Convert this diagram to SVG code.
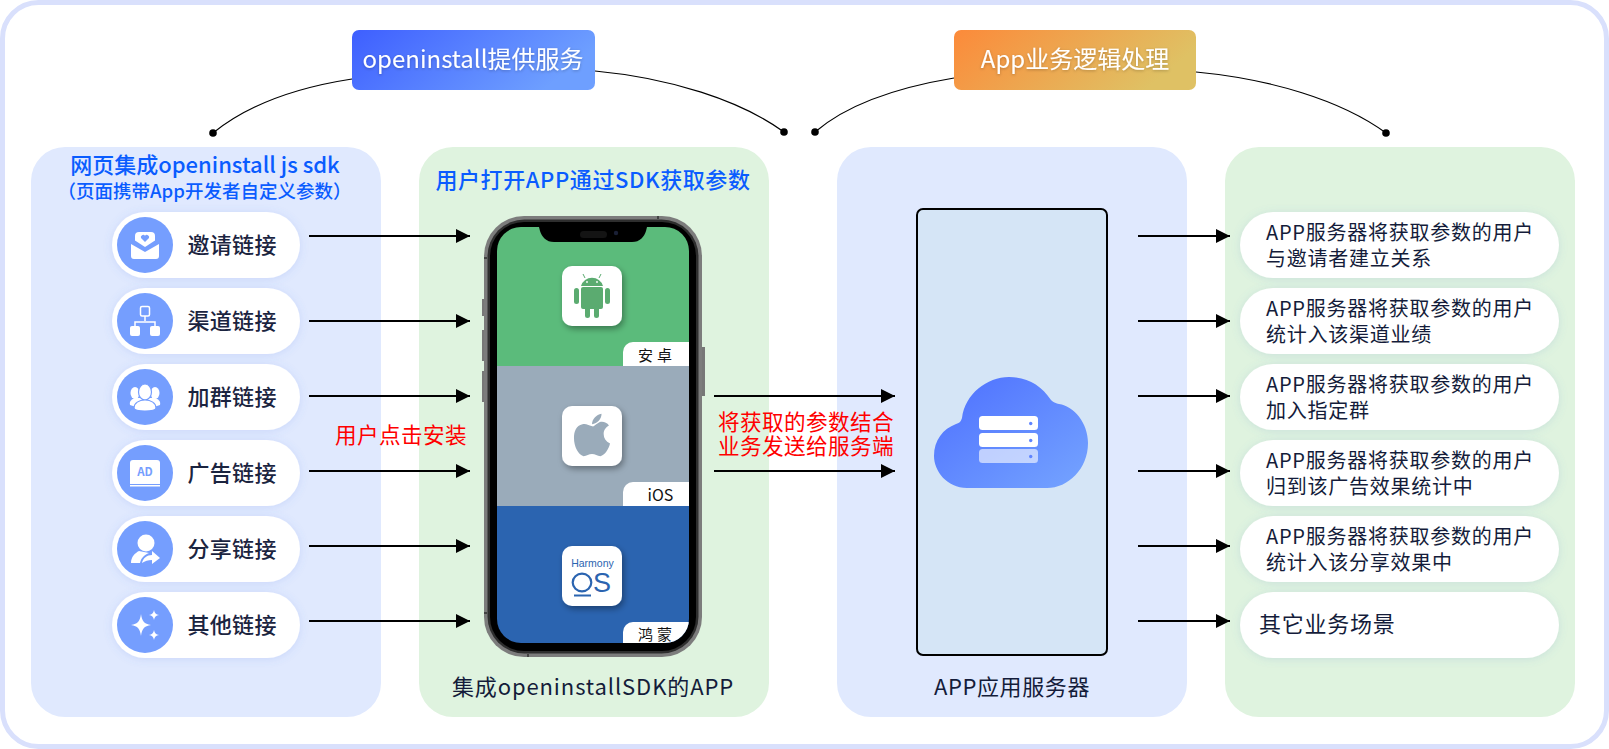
<svg xmlns="http://www.w3.org/2000/svg" width="1609" height="749" viewBox="0 0 1609 749">
<style>
text{font-family:"Noto Sans CJK SC","Noto Sans",sans-serif}
.panelB{fill:#e0e9fe}.panelG{fill:#dff3df}
.pill{fill:#fff;filter:url(#sh)}
.pillG{fill:#fff;filter:url(#shG)}
.ico{fill:#759efe}
.w{fill:#fff}
.t{font-size:22px;fill:#1b2440;font-weight:500;letter-spacing:.3px}
.r{font-size:20px;fill:#141c3a;letter-spacing:.75px}
.h{font-size:22px;fill:#0a5cff;font-weight:500;letter-spacing:.6px}
.red{font-size:21.600px;fill:#ff0000;letter-spacing:.4px}
.lnk{fill:none;stroke:#000;stroke-width:2}
.cv{fill:none;stroke:#000;stroke-width:1.200}
.ib{fill:#fff;filter:url(#shI)}
.tab{fill:#fff}
.tl{font-size:15px;fill:#111;text-anchor:middle}
.badge{font-size:24px;fill:#fff;text-anchor:middle;filter:url(#shT)}
</style>
<defs>
<linearGradient id="gB" x1="0" y1="0" x2="1" y2=".3"><stop offset="0" stop-color="#3e5fff"/><stop offset="1" stop-color="#6e9fff"/></linearGradient>
<linearGradient id="gO" x1="0" y1="0" x2="1" y2=".3"><stop offset="0" stop-color="#fc8a3a"/><stop offset="1" stop-color="#dfc164"/></linearGradient>
<linearGradient id="gC" x1="0" y1="0" x2="1" y2="1"><stop offset="0" stop-color="#4d6fff"/><stop offset="1" stop-color="#75a4ff"/></linearGradient>
<filter id="sh" x="-15%" y="-30%" width="130%" height="160%"><feDropShadow dx="0" dy="1" stdDeviation="4" flood-color="#5a7ee8" flood-opacity=".18"/></filter>
<filter id="shG" x="-15%" y="-30%" width="130%" height="160%"><feDropShadow dx="0" dy="1" stdDeviation="4" flood-color="#5a8ec8" flood-opacity=".18"/></filter>
<filter id="shI" x="-30%" y="-30%" width="160%" height="160%"><feDropShadow dx="2" dy="3" stdDeviation="3" flood-color="#000" flood-opacity=".35"/></filter>
<filter id="shT" x="-10%" y="-30%" width="120%" height="160%"><feDropShadow dx="0" dy="1" stdDeviation="1.500" flood-color="#000" flood-opacity=".25"/></filter>
<marker id="ah" markerUnits="userSpaceOnUse" markerWidth="14" markerHeight="14" refX="14" refY="7" orient="auto"><path d="M0 0L14 7L0 14Z" fill="#000"/></marker>
</defs>
<rect id="frame" x="2.500" y="2.500" width="1604" height="744" rx="36" fill="#fff" stroke="#d9e0fc" stroke-width="5"/>
<g id="panels">
<rect class="panelB" x="31" y="147" width="350" height="570" rx="34"/>
<rect class="panelG" x="419" y="147" width="350" height="570" rx="34"/>
<rect class="panelB" x="837" y="147" width="350" height="570" rx="34"/>
<rect class="panelG" x="1225" y="147" width="350" height="570" rx="34"/>
</g>
<g id="badge-openinstall"><rect x="352" y="30" width="243" height="60" rx="7" fill="url(#gB)"/><text class="badge" x="473" y="68">openinstall提供服务</text></g>
<g id="badge-app"><rect x="954" y="30" width="242" height="60" rx="7" fill="url(#gO)"/><text class="badge" x="1075" y="68">App业务逻辑处理</text></g>
<g id="connectors">
<path class="cv" d="M352 79C300 87 250 103 213 133"/><circle cx="213" cy="133" r="3.800"/>
<path class="cv" d="M595 71C670 78 740 100 784 132"/><circle cx="784" cy="132" r="3.800"/>
<path class="cv" d="M954 78C900 87 850 102 815 132"/><circle cx="815" cy="132" r="3.800"/>
<path class="cv" d="M1196 72C1270 79 1341 100 1386 133"/><circle cx="1386" cy="133" r="3.800"/>
<path class="lnk" marker-end="url(#ah)" d="M309 236H470"/>
<path class="lnk" marker-end="url(#ah)" d="M309 321H470"/>
<path class="lnk" marker-end="url(#ah)" d="M309 396H470"/>
<path class="lnk" marker-end="url(#ah)" d="M309 471H470"/>
<path class="lnk" marker-end="url(#ah)" d="M309 546H470"/>
<path class="lnk" marker-end="url(#ah)" d="M309 621H470"/>
<path class="lnk" marker-end="url(#ah)" d="M714 396H895"/>
<path class="lnk" marker-end="url(#ah)" d="M714 471H895"/>
<path class="lnk" marker-end="url(#ah)" d="M1138 236H1230"/>
<path class="lnk" marker-end="url(#ah)" d="M1138 321H1230"/>
<path class="lnk" marker-end="url(#ah)" d="M1138 396H1230"/>
<path class="lnk" marker-end="url(#ah)" d="M1138 471H1230"/>
<path class="lnk" marker-end="url(#ah)" d="M1138 546H1230"/>
<path class="lnk" marker-end="url(#ah)" d="M1138 621H1230"/>
</g>
<g id="panel-titles">
<text x="205" y="173" text-anchor="middle" font-size="22" font-weight="500" fill="#0a5cff">网页集成openinstall js sdk</text>
<text x="204.500" y="198" text-anchor="middle" font-size="18.500" font-weight="500" fill="#0a5cff">（页面携带App开发者自定义参数）</text>
<text class="h" x="593" y="188" text-anchor="middle">用户打开APP通过SDK获取参数</text>
<text x="593" y="695" text-anchor="middle" font-size="22" letter-spacing=".9" fill="#141c3a">集成openinstallSDK的APP</text>
<text x="1012" y="695" text-anchor="middle" font-size="22" letter-spacing=".6" fill="#141c3a">APP应用服务器</text>
<text class="red" x="335" y="443">用户点击安装</text>
<text class="red" x="806" y="430" text-anchor="middle">将获取的参数结合</text>
<text class="red" x="806" y="453.500" text-anchor="middle">业务发送给服务端</text>
</g>
<g id="link-invite"><rect class="pill" x="112" y="212" width="188" height="66" rx="33"/><circle class="ico" cx="145" cy="245" r="28"/>
<path class="w" d="M135 240.500V236a4 4 0 0 1 4-4h12a4 4 0 0 1 4 4v4.500l-10 6.500Z"/><path class="w" d="M131 244l14 8 14-8v12a3 3 0 0 1-3 3h-22a3 3 0 0 1-3-3Z"/><path class="ico" d="M145 242l-4-4a2.300 2.300 0 0 1 4-2.200 2.300 2.300 0 0 1 4 2.200Z"/>
<text class="t" x="187.500" y="253">邀请链接</text></g>
<g id="link-channel"><rect class="pill" x="112" y="288" width="188" height="66" rx="33"/><circle class="ico" cx="145" cy="321" r="28"/>
<rect x="140.500" y="306.500" width="9" height="9.500" rx="1.500" fill="none" stroke="#fff" stroke-width="1.500"/><path d="M145 316v5M135 327v-5h20v5" fill="none" stroke="#fff" stroke-width="1.500"/><rect class="w" x="130" y="326" width="10" height="10" rx="2"/><rect class="w" x="150" y="326" width="10" height="10" rx="2"/>
<text class="t" x="187.500" y="329">渠道链接</text></g>
<g id="link-group"><rect class="pill" x="112" y="364" width="188" height="66" rx="33"/><circle class="ico" cx="145" cy="397" r="28"/>
<ellipse class="w" cx="135" cy="393" rx="4.500" ry="6"/><ellipse class="w" cx="155" cy="393" rx="4.500" ry="6"/><path class="w" d="M130 405c-1-4 2-6 5-7h20c3 1 6 3 5 7l-6 2h-18Z"/>
<ellipse class="w" cx="145" cy="392" rx="6.500" ry="8" stroke="#759efe" stroke-width="1.200"/><path class="w" stroke="#759efe" stroke-width="1.200" d="M134 408c0-5 5-8 11-8s11 3 11 8c0 2-5 3-11 3s-11-1-11-3Z"/>
<text class="t" x="187.500" y="405">加群链接</text></g>
<g id="link-ad"><rect class="pill" x="112" y="440" width="188" height="66" rx="33"/><circle class="ico" cx="145" cy="473" r="28"/>
<path class="w" d="M130 484v-21a3 3 0 0 1 3-3h24a3 3 0 0 1 3 3v21Z"/><rect class="w" x="130" y="485" width="30" height="1.500"/><text x="145" y="476" text-anchor="middle" font-size="11.500" font-weight="700" fill="#759efe">AD</text>
<text class="t" x="187.500" y="481">广告链接</text></g>
<g id="link-share"><rect class="pill" x="112" y="516" width="188" height="66" rx="33"/><circle class="ico" cx="145" cy="549" r="28"/>
<circle class="w" cx="146" cy="543" r="8.500"/><path class="w" d="M131 563c0-6 4-10 8-12l10 2c-5 2-8 5-9 10Z"/><path class="w" d="M142 563c1-5 5-8 10-8v-4l8 7-8 6v-4c-4 0-7 1-10 3Z"/>
<text class="t" x="187.500" y="557">分享链接</text></g>
<g id="link-other"><rect class="pill" x="112" y="592" width="188" height="66" rx="33"/><circle class="ico" cx="145" cy="625" r="28"/>
<path class="w" d="M141 614c1 7 3 10 10 11-7 1-9 4-10 11-1-7-3-10-10-11 7-1 9-4 10-11Z"/><path class="w" d="M154 610c.5 3 2 4.500 5 5-3 .5-4.500 2-5 5-.5-3-2-4.500-5-5 3-.5 4.500-2 5-5ZM154 630c.5 3 2 4.500 5 5-3 .5-4.500 2-5 5-.5-3-2-4.500-5-5 3-.5 4.500-2 5-5Z"/>
<text class="t" x="187.500" y="633">其他链接</text></g>
<g id="phone">
<rect x="482" y="299" width="3" height="17" fill="#777"/><rect x="482" y="330" width="3" height="31" fill="#777"/><rect x="482" y="371" width="3" height="31" fill="#777"/><rect x="701" y="347" width="4" height="49" fill="#777"/>
<rect x="484" y="216" width="218" height="441" rx="40" fill="#7c7c7c"/>
<rect x="487.500" y="219.500" width="211" height="434" rx="37" fill="#2e2e2e"/>
<rect x="490" y="222" width="206" height="429" rx="34" fill="#000"/>
<path d="M484 258h3M484 613h3M658 216v3M528 654v3" stroke="#444" stroke-width="2"/>
<clipPath id="scr"><rect x="497" y="227" width="192" height="416" rx="24"/></clipPath>
<g clip-path="url(#scr)">
<rect x="497" y="227" width="192" height="139" fill="#5bbb7b"/>
<rect x="497" y="366" width="192" height="140" fill="#9aabba"/>
<rect x="497" y="506" width="192" height="137" fill="#2b64b0"/>
<path class="tab" d="M623 366v-14a10 10 0 0 1 10-10h56v24Z"/>
<path class="tab" d="M623 506v-14a10 10 0 0 1 10-10h56v24Z"/>
<path class="tab" d="M623 643v-11a10 10 0 0 1 10-10h56v21Z"/>
</g>
<path d="M539 227c0 0 0 0 1 4 2 6 6 11 14 11h78c8 0 12-5 14-11 1-4 1-4 1-4Z" fill="#000"/>
<rect x="580" y="231" width="27" height="7" rx="3.500" fill="#141414"/><circle cx="616" cy="233" r="2.200" fill="#1a2036"/>
<text class="tl" x="657" y="361" letter-spacing="4">安卓</text><text class="tl" x="660.500" y="501" style="font-size:16px">iOS</text><text class="tl" x="657" y="640" letter-spacing="4">鸿蒙</text>
</g>
<g id="icon-android"><rect class="ib" x="562" y="266" width="60" height="60" rx="10"/>
<path d="M581 286a11.500 11.500 0 0 1 22 0Z" fill="#5bab70"/><path d="M585 278l-2-4M599 278l2-4" stroke="#5bab70" stroke-width="1"/><rect x="581" y="287" width="22" height="22" rx="2" fill="#5bab70"/><rect x="574" y="288" width="5" height="16" rx="2.500" fill="#5bab70"/><rect x="605" y="288" width="5" height="16" rx="2.500" fill="#5bab70"/><rect x="585" y="305" width="5" height="13" rx="2.500" fill="#5bab70"/><rect x="594" y="305" width="5" height="13" rx="2.500" fill="#5bab70"/><circle cx="587" cy="282" r=".9" fill="#fff"/><circle cx="597" cy="282" r=".9" fill="#fff"/></g>
<g id="icon-apple"><rect class="ib" x="562" y="406" width="60" height="60" rx="10"/>
<g transform="translate(592 436) scale(1.060) translate(-592 -431)"><path d="M593 422c-4-1-7-3-10-2-6 1-8 7-8 13 0 8 4 16 9 17 3 0 5-2 8-2s5 2 8 2c4-1 8-7 9-12-4-2-6-5-6-9s2-6 5-8c-2-3-6-4-9-3-2 1-4 3-6 4Z" fill="#9aabba"/><path d="M592 420c0-5 4-9 9-10 0 5-4 9-9 10Z" fill="#9aabba"/></g></g>
<g id="icon-harmony"><rect class="ib" x="562" y="546" width="60" height="60" rx="10"/>
<text x="592.500" y="567" text-anchor="middle" font-size="10.500" fill="#2b64b0" style="font-family:'Liberation Sans',sans-serif">Harmony</text>
<ellipse cx="582" cy="582.500" rx="9.300" ry="8.800" fill="none" stroke="#2b64b0" stroke-width="2.200"/>
<text x="602" y="592" text-anchor="middle" font-size="27" fill="#2b64b0" style="font-family:'Liberation Sans',sans-serif">S</text>
<rect x="574" y="594.500" width="17" height="2" fill="#2b64b0"/></g>
<g id="server"><rect x="917" y="209" width="190" height="446" rx="6" fill="#d5e5f6" stroke="#000" stroke-width="2"/>
<path d="M967 488c-20 0-33-17-33-32 0-16 9-27 22-32 4-1 5-3 6-6 3-24 25-41 47-41 18 0 32 8 42 23 3 3 5 3 8 4 15 2 29 19 29 39 0 26-20 45-41 45Z" fill="url(#gC)"/>
<rect x="979" y="416" width="59" height="14" rx="3.500" fill="#fff"/><rect x="979" y="433" width="59" height="14" rx="3.500" fill="#fff"/><rect x="979" y="449" width="59" height="14" rx="3.500" fill="#fff" opacity=".6"/>
<circle cx="1030.700" cy="423.500" r="1.700" fill="#5f84ff"/><circle cx="1030.700" cy="440.500" r="1.700" fill="#5f84ff"/><circle cx="1030.700" cy="456.500" r="1.700" fill="#5f84ff"/></g>
<g id="result-invite"><rect class="pillG" x="1240" y="212" width="319" height="66" rx="33"/><text class="r" x="1266" y="240">APP服务器将获取参数的用户</text><text class="r" x="1266" y="266">与邀请者建立关系</text></g>
<g id="result-channel"><rect class="pillG" x="1240" y="288" width="319" height="66" rx="33"/><text class="r" x="1266" y="316">APP服务器将获取参数的用户</text><text class="r" x="1266" y="342">统计入该渠道业绩</text></g>
<g id="result-group"><rect class="pillG" x="1240" y="364" width="319" height="66" rx="33"/><text class="r" x="1266" y="392">APP服务器将获取参数的用户</text><text class="r" x="1266" y="418">加入指定群</text></g>
<g id="result-ad"><rect class="pillG" x="1240" y="440" width="319" height="66" rx="33"/><text class="r" x="1266" y="468">APP服务器将获取参数的用户</text><text class="r" x="1266" y="494">归到该广告效果统计中</text></g>
<g id="result-share"><rect class="pillG" x="1240" y="516" width="319" height="66" rx="33"/><text class="r" x="1266" y="544">APP服务器将获取参数的用户</text><text class="r" x="1266" y="570">统计入该分享效果中</text></g>
<g id="result-other"><rect class="pillG" x="1240" y="592" width="319" height="66" rx="33"/><text class="r" x="1259" y="632" style="font-size:22px">其它业务场景</text></g>
</svg>
